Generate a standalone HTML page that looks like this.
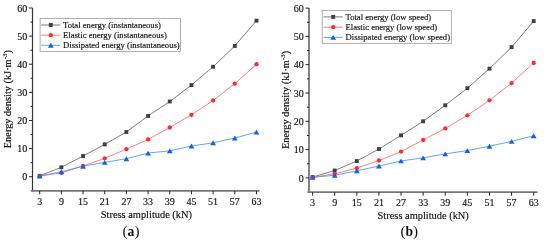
<!DOCTYPE html>
<html><head><meta charset="utf-8"><style>
html,body{margin:0;padding:0;background:#fff;}
body{width:550px;height:243px;overflow:hidden;}
svg{display:block;filter:blur(0.3px);}
text{font-family:"Liberation Serif",serif;fill:#111;stroke:#111;stroke-width:0.15px;}
.t{font-size:10px;}
.lg{font-size:8.65px;}
.yl{font-size:10.35px;}
.xl{font-size:10.4px;}
.tag{font-size:15.2px;stroke-width:0;}
</style></head><body>
<svg width="550" height="243" viewBox="0 0 550 243">
<rect width="550" height="243" fill="#fff"/>
<line x1="32.50" y1="8.00" x2="32.50" y2="191.70" stroke="#333" stroke-width="1.2"/>
<line x1="30.90" y1="190.80" x2="259.50" y2="190.80" stroke="#777" stroke-width="1.8"/>
<line x1="29.00" y1="176.70" x2="32.50" y2="176.70" stroke="#222" stroke-width="1"/>
<text x="27.30" y="180.30" text-anchor="end" class="t">0</text>
<line x1="29.00" y1="148.58" x2="32.50" y2="148.58" stroke="#222" stroke-width="1"/>
<text x="27.30" y="152.18" text-anchor="end" class="t">10</text>
<line x1="29.00" y1="120.47" x2="32.50" y2="120.47" stroke="#222" stroke-width="1"/>
<text x="27.30" y="124.07" text-anchor="end" class="t">20</text>
<line x1="29.00" y1="92.35" x2="32.50" y2="92.35" stroke="#222" stroke-width="1"/>
<text x="27.30" y="95.95" text-anchor="end" class="t">30</text>
<line x1="29.00" y1="64.23" x2="32.50" y2="64.23" stroke="#222" stroke-width="1"/>
<text x="27.30" y="67.83" text-anchor="end" class="t">40</text>
<line x1="29.00" y1="36.12" x2="32.50" y2="36.12" stroke="#222" stroke-width="1"/>
<text x="27.30" y="39.72" text-anchor="end" class="t">50</text>
<line x1="29.00" y1="8.00" x2="32.50" y2="8.00" stroke="#222" stroke-width="1"/>
<text x="27.30" y="11.60" text-anchor="end" class="t">60</text>
<line x1="30.50" y1="162.64" x2="32.50" y2="162.64" stroke="#222" stroke-width="1"/>
<line x1="30.50" y1="134.52" x2="32.50" y2="134.52" stroke="#222" stroke-width="1"/>
<line x1="30.50" y1="106.41" x2="32.50" y2="106.41" stroke="#222" stroke-width="1"/>
<line x1="30.50" y1="78.29" x2="32.50" y2="78.29" stroke="#222" stroke-width="1"/>
<line x1="30.50" y1="50.17" x2="32.50" y2="50.17" stroke="#222" stroke-width="1"/>
<line x1="30.50" y1="22.06" x2="32.50" y2="22.06" stroke="#222" stroke-width="1"/>
<line x1="39.70" y1="190.80" x2="39.70" y2="194.30" stroke="#222" stroke-width="1"/>
<text x="39.70" y="204.60" text-anchor="middle" class="t">3</text>
<line x1="61.38" y1="190.80" x2="61.38" y2="194.30" stroke="#222" stroke-width="1"/>
<text x="61.38" y="204.60" text-anchor="middle" class="t">9</text>
<line x1="83.06" y1="190.80" x2="83.06" y2="194.30" stroke="#222" stroke-width="1"/>
<text x="83.06" y="204.60" text-anchor="middle" class="t">15</text>
<line x1="104.73" y1="190.80" x2="104.73" y2="194.30" stroke="#222" stroke-width="1"/>
<text x="104.73" y="204.60" text-anchor="middle" class="t">21</text>
<line x1="126.41" y1="190.80" x2="126.41" y2="194.30" stroke="#222" stroke-width="1"/>
<text x="126.41" y="204.60" text-anchor="middle" class="t">27</text>
<line x1="148.09" y1="190.80" x2="148.09" y2="194.30" stroke="#222" stroke-width="1"/>
<text x="148.09" y="204.60" text-anchor="middle" class="t">33</text>
<line x1="169.77" y1="190.80" x2="169.77" y2="194.30" stroke="#222" stroke-width="1"/>
<text x="169.77" y="204.60" text-anchor="middle" class="t">39</text>
<line x1="191.45" y1="190.80" x2="191.45" y2="194.30" stroke="#222" stroke-width="1"/>
<text x="191.45" y="204.60" text-anchor="middle" class="t">45</text>
<line x1="213.12" y1="190.80" x2="213.12" y2="194.30" stroke="#222" stroke-width="1"/>
<text x="213.12" y="204.60" text-anchor="middle" class="t">51</text>
<line x1="234.80" y1="190.80" x2="234.80" y2="194.30" stroke="#222" stroke-width="1"/>
<text x="234.80" y="204.60" text-anchor="middle" class="t">57</text>
<line x1="256.48" y1="190.80" x2="256.48" y2="194.30" stroke="#222" stroke-width="1"/>
<text x="256.48" y="204.60" text-anchor="middle" class="t">63</text>
<polyline points="39.70,175.86 61.38,167.28 83.06,156.06 104.73,144.37 126.41,131.99 148.09,115.97 169.77,101.49 191.45,85.04 213.12,66.76 234.80,45.96 256.48,20.65" fill="none" stroke="#6e6e6e" stroke-width="0.9"/>
<polyline points="39.70,176.14 61.38,172.79 83.06,166.02 104.73,158.28 126.41,149.15 148.09,139.45 169.77,127.50 191.45,114.84 213.12,100.50 234.80,83.63 256.48,64.23" fill="none" stroke="#ff7070" stroke-width="0.9"/>
<polyline points="39.70,176.14 61.38,171.70 83.06,166.18 104.73,162.36 126.41,158.71 148.09,153.08 169.77,150.83 191.45,146.05 213.12,142.82 234.80,138.04 256.48,132.14" fill="none" stroke="#4f9cf0" stroke-width="0.9"/>
<rect x="37.75" y="173.91" width="3.9" height="3.9" fill="#404040"/>
<rect x="59.43" y="165.33" width="3.9" height="3.9" fill="#404040"/>
<rect x="81.11" y="154.11" width="3.9" height="3.9" fill="#404040"/>
<rect x="102.78" y="142.42" width="3.9" height="3.9" fill="#404040"/>
<rect x="124.46" y="130.04" width="3.9" height="3.9" fill="#404040"/>
<rect x="146.14" y="114.02" width="3.9" height="3.9" fill="#404040"/>
<rect x="167.82" y="99.54" width="3.9" height="3.9" fill="#404040"/>
<rect x="189.50" y="83.09" width="3.9" height="3.9" fill="#404040"/>
<rect x="211.17" y="64.81" width="3.9" height="3.9" fill="#404040"/>
<rect x="232.85" y="44.01" width="3.9" height="3.9" fill="#404040"/>
<rect x="254.53" y="18.70" width="3.9" height="3.9" fill="#404040"/>
<circle cx="39.70" cy="176.14" r="2.15" fill="#ff2a2a"/>
<circle cx="61.38" cy="172.79" r="2.15" fill="#ff2a2a"/>
<circle cx="83.06" cy="166.02" r="2.15" fill="#ff2a2a"/>
<circle cx="104.73" cy="158.28" r="2.15" fill="#ff2a2a"/>
<circle cx="126.41" cy="149.15" r="2.15" fill="#ff2a2a"/>
<circle cx="148.09" cy="139.45" r="2.15" fill="#ff2a2a"/>
<circle cx="169.77" cy="127.50" r="2.15" fill="#ff2a2a"/>
<circle cx="191.45" cy="114.84" r="2.15" fill="#ff2a2a"/>
<circle cx="213.12" cy="100.50" r="2.15" fill="#ff2a2a"/>
<circle cx="234.80" cy="83.63" r="2.15" fill="#ff2a2a"/>
<circle cx="256.48" cy="64.23" r="2.15" fill="#ff2a2a"/>
<polygon points="36.80,178.59 42.60,178.59 39.70,173.69" fill="#1560e8"/>
<polygon points="58.48,174.15 64.28,174.15 61.38,169.25" fill="#1560e8"/>
<polygon points="80.16,168.63 85.96,168.63 83.06,163.73" fill="#1560e8"/>
<polygon points="101.83,164.81 107.63,164.81 104.73,159.91" fill="#1560e8"/>
<polygon points="123.51,161.16 129.31,161.16 126.41,156.26" fill="#1560e8"/>
<polygon points="145.19,155.53 150.99,155.53 148.09,150.63" fill="#1560e8"/>
<polygon points="166.87,153.28 172.67,153.28 169.77,148.38" fill="#1560e8"/>
<polygon points="188.55,148.50 194.35,148.50 191.45,143.60" fill="#1560e8"/>
<polygon points="210.22,145.27 216.02,145.27 213.12,140.37" fill="#1560e8"/>
<polygon points="231.90,140.49 237.70,140.49 234.80,135.59" fill="#1560e8"/>
<polygon points="253.58,134.59 259.38,134.59 256.48,129.69" fill="#1560e8"/>
<rect x="40.10" y="18.40" width="140.40" height="33.00" fill="#fff" stroke="#9a9a9a" stroke-width="0.8"/>
<line x1="41.10" y1="25.00" x2="60.30" y2="25.00" stroke="#6e6e6e" stroke-width="0.9"/>
<rect x="48.85" y="23.05" width="3.9" height="3.9" fill="#404040"/>
<text x="63.00" y="27.65" class="lg">Total energy (instantaneous)</text>
<line x1="41.10" y1="35.20" x2="60.30" y2="35.20" stroke="#ff7070" stroke-width="0.9"/>
<circle cx="50.80" cy="35.20" r="2.15" fill="#ff2a2a"/>
<text x="63.00" y="37.85" class="lg">Elastic energy (instantaneous)</text>
<line x1="41.10" y1="45.30" x2="60.30" y2="45.30" stroke="#4f9cf0" stroke-width="0.9"/>
<polygon points="47.90,47.75 53.70,47.75 50.80,42.85" fill="#1560e8"/>
<text x="63.00" y="47.95" class="lg">Dissipated energy (instantaneous)</text>
<text x="146.40" y="218.20" text-anchor="middle" class="xl">Stress amplitude (kN)</text>
<text x="131.00" y="236.00" text-anchor="middle" class="tag">(<tspan font-weight="bold" font-size="13.6">a</tspan>)</text>
<text transform="translate(10.90,148.20) rotate(-90)" class="yl">Energy density (kJ·m<tspan dy="-4" font-size="7">-3</tspan><tspan dy="4">)</tspan></text>
<line x1="309.00" y1="8.10" x2="309.00" y2="193.05" stroke="#777" stroke-width="1.8"/>
<line x1="307.40" y1="192.20" x2="537.60" y2="192.20" stroke="#777" stroke-width="1.7"/>
<line x1="305.50" y1="177.90" x2="309.00" y2="177.90" stroke="#222" stroke-width="1"/>
<text x="303.80" y="181.50" text-anchor="end" class="t">0</text>
<line x1="305.50" y1="149.60" x2="309.00" y2="149.60" stroke="#222" stroke-width="1"/>
<text x="303.80" y="153.20" text-anchor="end" class="t">10</text>
<line x1="305.50" y1="121.30" x2="309.00" y2="121.30" stroke="#222" stroke-width="1"/>
<text x="303.80" y="124.90" text-anchor="end" class="t">20</text>
<line x1="305.50" y1="93.00" x2="309.00" y2="93.00" stroke="#222" stroke-width="1"/>
<text x="303.80" y="96.60" text-anchor="end" class="t">30</text>
<line x1="305.50" y1="64.70" x2="309.00" y2="64.70" stroke="#222" stroke-width="1"/>
<text x="303.80" y="68.30" text-anchor="end" class="t">40</text>
<line x1="305.50" y1="36.40" x2="309.00" y2="36.40" stroke="#222" stroke-width="1"/>
<text x="303.80" y="40.00" text-anchor="end" class="t">50</text>
<line x1="305.50" y1="8.10" x2="309.00" y2="8.10" stroke="#222" stroke-width="1"/>
<text x="303.80" y="11.70" text-anchor="end" class="t">60</text>
<line x1="307.00" y1="163.75" x2="309.00" y2="163.75" stroke="#222" stroke-width="1"/>
<line x1="307.00" y1="135.45" x2="309.00" y2="135.45" stroke="#222" stroke-width="1"/>
<line x1="307.00" y1="107.15" x2="309.00" y2="107.15" stroke="#222" stroke-width="1"/>
<line x1="307.00" y1="78.85" x2="309.00" y2="78.85" stroke="#222" stroke-width="1"/>
<line x1="307.00" y1="50.55" x2="309.00" y2="50.55" stroke="#222" stroke-width="1"/>
<line x1="307.00" y1="22.25" x2="309.00" y2="22.25" stroke="#222" stroke-width="1"/>
<line x1="312.60" y1="192.20" x2="312.60" y2="195.70" stroke="#222" stroke-width="1"/>
<text x="312.60" y="206.00" text-anchor="middle" class="t">3</text>
<line x1="334.71" y1="192.20" x2="334.71" y2="195.70" stroke="#222" stroke-width="1"/>
<text x="334.71" y="206.00" text-anchor="middle" class="t">9</text>
<line x1="356.82" y1="192.20" x2="356.82" y2="195.70" stroke="#222" stroke-width="1"/>
<text x="356.82" y="206.00" text-anchor="middle" class="t">15</text>
<line x1="378.93" y1="192.20" x2="378.93" y2="195.70" stroke="#222" stroke-width="1"/>
<text x="378.93" y="206.00" text-anchor="middle" class="t">21</text>
<line x1="401.04" y1="192.20" x2="401.04" y2="195.70" stroke="#222" stroke-width="1"/>
<text x="401.04" y="206.00" text-anchor="middle" class="t">27</text>
<line x1="423.15" y1="192.20" x2="423.15" y2="195.70" stroke="#222" stroke-width="1"/>
<text x="423.15" y="206.00" text-anchor="middle" class="t">33</text>
<line x1="445.26" y1="192.20" x2="445.26" y2="195.70" stroke="#222" stroke-width="1"/>
<text x="445.26" y="206.00" text-anchor="middle" class="t">39</text>
<line x1="467.37" y1="192.20" x2="467.37" y2="195.70" stroke="#222" stroke-width="1"/>
<text x="467.37" y="206.00" text-anchor="middle" class="t">45</text>
<line x1="489.48" y1="192.20" x2="489.48" y2="195.70" stroke="#222" stroke-width="1"/>
<text x="489.48" y="206.00" text-anchor="middle" class="t">51</text>
<line x1="511.59" y1="192.20" x2="511.59" y2="195.70" stroke="#222" stroke-width="1"/>
<text x="511.59" y="206.00" text-anchor="middle" class="t">57</text>
<line x1="533.70" y1="192.20" x2="533.70" y2="195.70" stroke="#222" stroke-width="1"/>
<text x="533.70" y="206.00" text-anchor="middle" class="t">63</text>
<polyline points="312.60,177.05 334.71,170.54 356.82,161.06 378.93,149.03 401.04,135.31 423.15,121.30 445.26,105.31 467.37,88.19 489.48,68.66 511.59,47.15 533.70,21.12" fill="none" stroke="#6e6e6e" stroke-width="0.9"/>
<polyline points="312.60,177.33 334.71,173.80 356.82,168.14 378.93,160.50 401.04,151.58 423.15,139.98 445.26,128.38 467.37,115.36 489.48,100.36 511.59,83.09 533.70,63.00" fill="none" stroke="#ff7070" stroke-width="0.9"/>
<polyline points="312.60,177.33 334.71,175.30 356.82,170.83 378.93,166.01 401.04,160.92 423.15,157.89 445.26,153.84 467.37,150.59 489.48,146.20 511.59,141.39 533.70,135.73" fill="none" stroke="#4f9cf0" stroke-width="0.9"/>
<rect x="310.65" y="175.10" width="3.9" height="3.9" fill="#404040"/>
<rect x="332.76" y="168.59" width="3.9" height="3.9" fill="#404040"/>
<rect x="354.87" y="159.11" width="3.9" height="3.9" fill="#404040"/>
<rect x="376.98" y="147.08" width="3.9" height="3.9" fill="#404040"/>
<rect x="399.09" y="133.36" width="3.9" height="3.9" fill="#404040"/>
<rect x="421.20" y="119.35" width="3.9" height="3.9" fill="#404040"/>
<rect x="443.31" y="103.36" width="3.9" height="3.9" fill="#404040"/>
<rect x="465.42" y="86.24" width="3.9" height="3.9" fill="#404040"/>
<rect x="487.53" y="66.71" width="3.9" height="3.9" fill="#404040"/>
<rect x="509.64" y="45.20" width="3.9" height="3.9" fill="#404040"/>
<rect x="531.75" y="19.17" width="3.9" height="3.9" fill="#404040"/>
<circle cx="312.60" cy="177.33" r="2.15" fill="#ff2a2a"/>
<circle cx="334.71" cy="173.80" r="2.15" fill="#ff2a2a"/>
<circle cx="356.82" cy="168.14" r="2.15" fill="#ff2a2a"/>
<circle cx="378.93" cy="160.50" r="2.15" fill="#ff2a2a"/>
<circle cx="401.04" cy="151.58" r="2.15" fill="#ff2a2a"/>
<circle cx="423.15" cy="139.98" r="2.15" fill="#ff2a2a"/>
<circle cx="445.26" cy="128.38" r="2.15" fill="#ff2a2a"/>
<circle cx="467.37" cy="115.36" r="2.15" fill="#ff2a2a"/>
<circle cx="489.48" cy="100.36" r="2.15" fill="#ff2a2a"/>
<circle cx="511.59" cy="83.09" r="2.15" fill="#ff2a2a"/>
<circle cx="533.70" cy="63.00" r="2.15" fill="#ff2a2a"/>
<polygon points="309.70,179.78 315.50,179.78 312.60,174.88" fill="#1560e8"/>
<polygon points="331.81,177.75 337.61,177.75 334.71,172.85" fill="#1560e8"/>
<polygon points="353.92,173.28 359.72,173.28 356.82,168.38" fill="#1560e8"/>
<polygon points="376.03,168.46 381.83,168.46 378.93,163.56" fill="#1560e8"/>
<polygon points="398.14,163.37 403.94,163.37 401.04,158.47" fill="#1560e8"/>
<polygon points="420.25,160.34 426.05,160.34 423.15,155.44" fill="#1560e8"/>
<polygon points="442.36,156.29 448.16,156.29 445.26,151.40" fill="#1560e8"/>
<polygon points="464.47,153.04 470.27,153.04 467.37,148.14" fill="#1560e8"/>
<polygon points="486.58,148.65 492.38,148.65 489.48,143.75" fill="#1560e8"/>
<polygon points="508.69,143.84 514.49,143.84 511.59,138.94" fill="#1560e8"/>
<polygon points="530.80,138.18 536.60,138.18 533.70,133.28" fill="#1560e8"/>
<rect x="322.20" y="10.50" width="129.10" height="32.80" fill="#fff" stroke="#9a9a9a" stroke-width="0.8"/>
<line x1="323.40" y1="16.90" x2="342.80" y2="16.90" stroke="#6e6e6e" stroke-width="0.9"/>
<rect x="331.25" y="14.95" width="3.9" height="3.9" fill="#404040"/>
<text x="345.50" y="19.55" class="lg">Total energy (low speed)</text>
<line x1="323.40" y1="27.20" x2="342.80" y2="27.20" stroke="#ff7070" stroke-width="0.9"/>
<circle cx="333.20" cy="27.20" r="2.15" fill="#ff2a2a"/>
<text x="345.50" y="29.85" class="lg">Elastic energy (low speed)</text>
<line x1="323.40" y1="37.40" x2="342.80" y2="37.40" stroke="#4f9cf0" stroke-width="0.9"/>
<polygon points="330.30,39.85 336.10,39.85 333.20,34.95" fill="#1560e8"/>
<text x="345.50" y="40.05" class="lg">Dissipated energy (low speed)</text>
<text x="423.20" y="218.80" text-anchor="middle" class="xl">Stress amplitude (kN)</text>
<text x="409.30" y="236.40" text-anchor="middle" class="tag">(<tspan font-weight="bold" font-size="13.6">b</tspan>)</text>
<text transform="translate(288.90,149.00) rotate(-90)" class="yl">Energy density (kJ·m<tspan dy="-4" font-size="7">-3</tspan><tspan dy="4">)</tspan></text>
</svg>
</body></html>
